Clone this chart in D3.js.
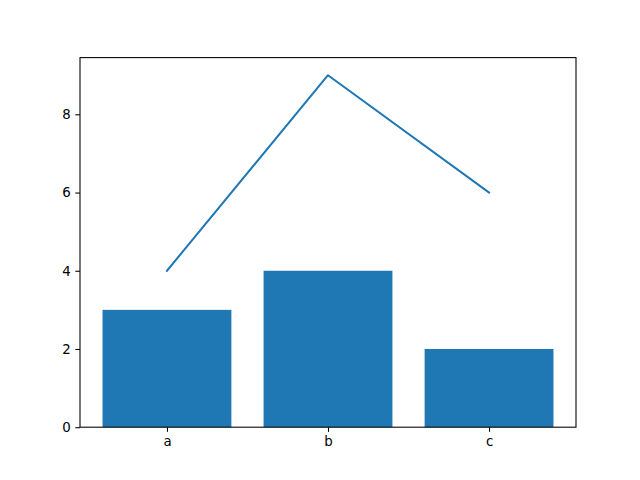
<!DOCTYPE html>
<html><head><meta charset="utf-8">
<script src="https://cdn.jsdelivr.net/npm/d3@7"></script>
<style>body{margin:0;background:#fff}svg{display:block}</style>
</head><body>
<svg id="c" width="640" height="480"></svg>
<script>
const categories = ["a", "b", "c"];
const barValues = [3, 4, 2];
const lineValues = [4, 9, 6];
const yTicks = [0, 2, 4, 6, 8];

const W = 640, H = 480;
const mLeft = 80, mRight = 576, mTop = 57.6, mBottom = 427.2;
const svg = d3.select("#c");
svg.append("rect").attr("width", W).attr("height", H).attr("fill", "#fff");

const idx = categories.map((d, i) => i);
const x = d3.scaleLinear().domain([-0.54, 2.54]).range([mLeft, mRight]);
const y = d3.scaleLinear().domain([0, 9.45]).range([mBottom, mTop]);
const color = "#1f77b4";
const bw = 0.8;

svg.append("g").selectAll("rect").data(barValues).join("rect")
  .attr("x", (d, i) => x(i - bw / 2))
  .attr("width", (d, i) => x(i + bw / 2) - x(i - bw / 2))
  .attr("y", d => y(d))
  .attr("height", d => y(0) - y(d))
  .attr("fill", color);

const line = d3.line().x((d, i) => x(i)).y(d => y(d));
svg.append("path").datum(lineValues).attr("d", line)
  .attr("fill", "none").attr("stroke", color).attr("stroke-width", 2)
  .attr("stroke-linecap", "square").attr("stroke-linejoin", "round");

const font = "DejaVu Sans, sans-serif";
const xAxis = d3.axisBottom(x).tickValues(idx).tickFormat(i => categories[i])
  .tickSize(4.67).tickPadding(4.7);
const gx = svg.append("g").attr("transform", `translate(0,${mBottom})`).call(xAxis);
const yAxis = d3.axisLeft(y).tickValues(yTicks).tickFormat(d3.format("d"))
  .tickSize(4.67).tickPadding(4.7);
const gy = svg.append("g").attr("transform", `translate(${mLeft},0)`).call(yAxis);
[gx, gy].forEach(g => {
  g.select(".domain").remove();
  g.selectAll(".tick line").attr("stroke", "#000").attr("stroke-width", 1.07);
  g.selectAll(".tick text").attr("fill", "#000").style("font-family", font).style("font-size", "13.33px");
});

svg.append("rect").attr("x", mLeft).attr("y", mTop)
  .attr("width", mRight - mLeft).attr("height", mBottom - mTop)
  .attr("fill", "none").attr("stroke", "#000").attr("stroke-width", 1.07);
</script>
</body></html>
